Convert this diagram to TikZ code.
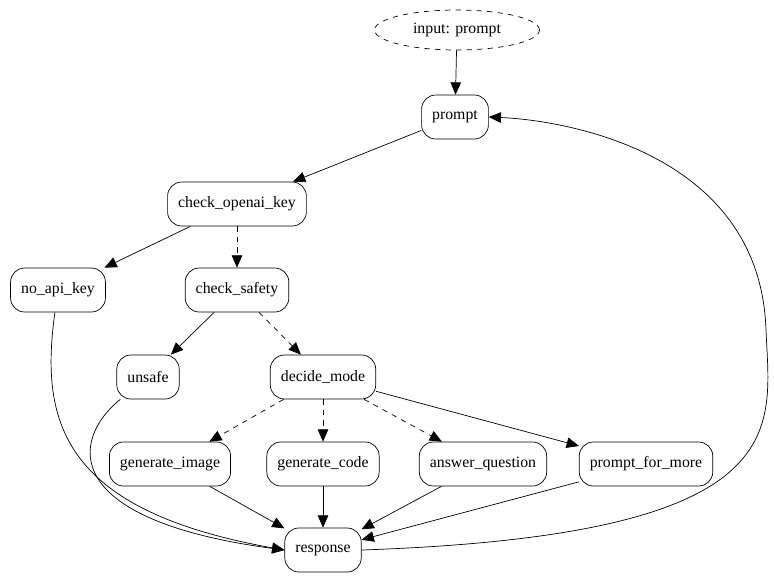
\documentclass[tikz,border=0pt]{standalone}
\usepackage{fontspec}
\setmainfont{Liberation Serif}
\usetikzlibrary{arrows.meta,shapes.geometric}
\begin{document}
\begin{tikzpicture}[
  x=0.02cm, y=-0.02cm,
  box/.style={draw, rounded corners=8pt, minimum height=0.88cm, inner xsep=6pt, font=\fontsize{9}{11}\selectfont},
  >={Triangle[length=7pt,width=6pt]}
  ]
  \useasboundingbox (0,0) rectangle (774,579);

  % Nodes
  \node[draw, dashed, ellipse, minimum width=3.3cm, minimum height=0.8cm, font=\fontsize{9}{11}\selectfont] (input) at (457,30) {input: prompt};
  \node[box] (prompt) at (455,117) {prompt};
  \node[box] (key) at (237,204) {check\_openai\_key};
  \node[box] (noapi) at (58,290) {no\_api\_key};
  \node[box] (safety) at (237,290) {check\_safety};
  \node[box] (unsafe) at (148,377) {unsafe};
  \node[box] (mode) at (323,377) {decide\_mode};
  \node[box] (image) at (170,464) {generate\_image};
  \node[box] (code) at (323,464) {generate\_code};
  \node[box] (answer) at (483,464) {answer\_question};
  \node[box] (more) at (646,464) {prompt\_for\_more};
  \node[box] (response) at (323,550) {response};

  % Connections
  \draw[->] (input) -- (prompt);
  \draw[->] (prompt) -- (key);
  \draw[->] (key) -- (noapi);
  \draw[->, dashed] (key) -- (safety);
  \draw[->] (safety) -- (unsafe);
  \draw[->, dashed] (safety) -- (mode);
  \draw[->, dashed] (mode) -- (image);
  \draw[->, dashed] (mode) -- (code);
  \draw[->, dashed] (mode) -- (answer);
  \draw[->] (mode) -- (more);
  \draw[->] (image) -- (response);
  \draw[->] (code) -- (response);
  \draw[->] (answer) -- (response);
  \draw[->] (more) -- (response);
  \draw[->] (noapi) .. controls (40,420) and (60,510) .. (response.west);
  \draw[->] (unsafe) .. controls (70,440) and (60,520) .. (response.west);
  \draw[->] (response.east) .. controls (800,535) and (770,430) .. (766,330)
    .. controls (760,150) and (560,120) .. (prompt.east);
\end{tikzpicture}
\end{document}
